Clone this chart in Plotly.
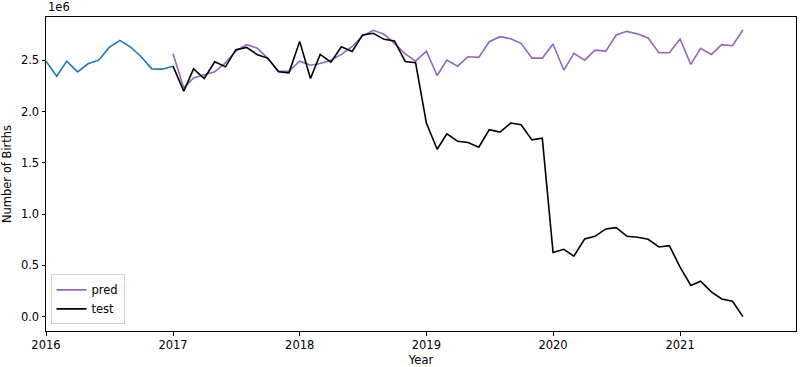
import pandas as pd
import plotly.graph_objects as go

# ---- data ----
train_dates = pd.date_range("2016-01-01", periods=13, freq="MS")
train_values = [2.493e6, 2.346e6, 2.493e6, 2.389e6, 2.467e6, 2.503e6, 2.627e6,
                2.696e6, 2.631e6, 2.536e6, 2.418e6, 2.415e6, 2.444e6]

test_dates = pd.date_range("2017-01-01", periods=55, freq="MS")
test_values = [
    2.444e6, 2.199e6, 2.418e6, 2.324e6, 2.487e6, 2.438e6, 2.605e6, 2.627e6, 2.556e6, 2.523e6, 2.389e6, 2.379e6,
    2.686e6, 2.324e6, 2.559e6, 2.484e6, 2.634e6, 2.588e6, 2.748e6, 2.765e6, 2.706e6, 2.690e6, 2.490e6, 2.477e6,
    1.889e6, 1.634e6, 1.784e6, 1.712e6, 1.699e6, 1.654e6, 1.824e6, 1.801e6, 1.889e6, 1.873e6, 1.725e6, 1.742e6,
    0.627e6, 0.657e6, 0.591e6, 0.758e6, 0.784e6, 0.856e6, 0.869e6, 0.784e6, 0.775e6, 0.755e6, 0.680e6, 0.693e6,
    0.484e6, 0.304e6, 0.346e6, 0.242e6, 0.173e6, 0.150e6, 0.0,
]
pred_values = [
    2.565e6, 2.232e6, 2.330e6, 2.363e6, 2.389e6, 2.477e6, 2.591e6, 2.654e6, 2.620e6, 2.520e6, 2.395e6, 2.395e6,
    2.493e6, 2.454e6, 2.470e6, 2.503e6, 2.559e6, 2.634e6, 2.739e6, 2.794e6, 2.755e6, 2.667e6, 2.565e6, 2.493e6,
    2.591e6, 2.353e6, 2.503e6, 2.444e6, 2.536e6, 2.530e6, 2.683e6, 2.732e6, 2.712e6, 2.667e6, 2.523e6, 2.523e6,
    2.660e6, 2.405e6, 2.569e6, 2.503e6, 2.601e6, 2.591e6, 2.748e6, 2.784e6, 2.758e6, 2.719e6, 2.575e6, 2.575e6,
    2.709e6, 2.461e6, 2.618e6, 2.559e6, 2.654e6, 2.644e6, 2.797e6,
]

x_tick_vals = ["2016-01-01", "2017-01-01", "2018-01-01", "2019-01-01", "2020-01-01", "2021-01-01"]
x_tick_text = ["2016", "2017", "2018", "2019", "2020", "2021"]
y_tick_vals = [0, 0.5e6, 1.0e6, 1.5e6, 2.0e6, 2.5e6]
y_tick_text = ["0.0", "0.5", "1.0", "1.5", "2.0", "2.5"]

FONT = "DejaVu Sans"
FS = 11.5

fig = go.Figure()
fig.add_trace(go.Scatter(x=train_dates, y=train_values, mode="lines", name="train",
                         line=dict(color="#1f77b4", width=1.6), showlegend=False))
fig.add_trace(go.Scatter(x=test_dates, y=pred_values, mode="lines", name="pred",
                         line=dict(color="#9467bd", width=1.6)))
fig.add_trace(go.Scatter(x=test_dates, y=test_values, mode="lines", name="test",
                         line=dict(color="black", width=1.6)))

axis_common = dict(showline=True, linecolor="black", linewidth=1, mirror=True,
                   ticks="outside", ticklen=3.5, tickwidth=1, tickcolor="black",
                   showgrid=False, zeroline=False,
                   tickfont=dict(family=FONT, size=FS, color="black"))

fig.update_layout(
    width=800, height=367,
    margin=dict(l=46, r=4, t=17, b=36),
    paper_bgcolor="white", plot_bgcolor="white",
    font=dict(family=FONT, size=FS, color="black"),
    xaxis=dict(range=["2016-01-01", "2021-12-01"], tickvals=x_tick_vals, ticktext=x_tick_text,
               title=dict(text="Year", font=dict(family=FONT, size=FS), standoff=4),
               **axis_common),
    yaxis=dict(range=[-0.14e6, 2.924e6], tickvals=y_tick_vals, ticktext=y_tick_text,
               title=dict(text="Number of Births", font=dict(family=FONT, size=FS), standoff=6),
               **axis_common),
    legend=dict(x=0.006, y=0.021, xanchor="left", yanchor="bottom",
                bgcolor="rgba(255,255,255,0.8)", bordercolor="#d0d0d0", borderwidth=1,
                font=dict(family=FONT, size=FS), itemwidth=30, tracegroupgap=0),
    annotations=[dict(text="1e6", xref="paper", yref="paper", x=0, y=1,
                      xanchor="left", yanchor="bottom", showarrow=False, yshift=1,
                      font=dict(family=FONT, size=FS, color="black"))],
)

fig.write_html("out.html",
               config={"displayModeBar": False},
               post_script="document.body.style.margin='0';document.body.style.padding='0';")
